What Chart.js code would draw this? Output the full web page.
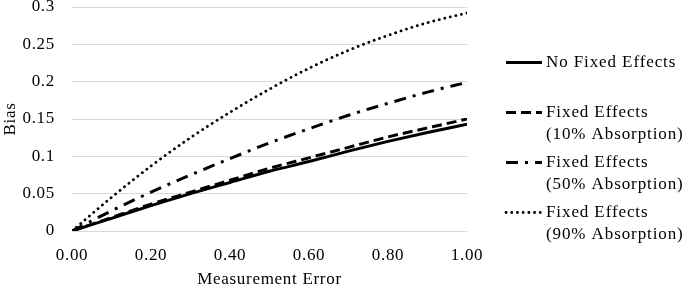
<!DOCTYPE html>
<html lang="en">
<head>
  <meta charset="UTF-8" />
  <title>Bias vs Measurement Error</title>
  <script src="https://cdn.jsdelivr.net/npm/chart.js"></script>
  <style>
    body {
      margin: 0;
      padding: 0;
      background: white;
    }
    #wrap {
      width: 685px;
      height: 287px;
    }
  </style>
</head>
<body>
  <div id="wrap"><canvas id="biasChart" width="685" height="287"></canvas></div>

  <script>
    // x values (measurement error)
    const errors = [0, 0.1, 0.2, 0.3, 0.4, 0.5, 0.6, 0.7, 0.8, 0.9, 1.0];

    // bias for each series
    const noFixed   = [0, 0.017, 0.034, 0.050, 0.065, 0.080, 0.093, 0.107, 0.120, 0.132, 0.143];
    const fixed10   = [0, 0.018, 0.036, 0.052, 0.068, 0.084, 0.098, 0.112, 0.126, 0.138, 0.150];
    const fixed50   = [0, 0.027, 0.052, 0.075, 0.097, 0.118, 0.137, 0.155, 0.171, 0.186, 0.199];
    const fixed90   = [0, 0.045, 0.087, 0.125, 0.159, 0.190, 0.218, 0.242, 0.262, 0.279, 0.292];

    const seriesNames = [
      ['No Fixed Effects'],
      ['Fixed Effects', '(10% Absorption)'],
      ['Fixed Effects', '(50% Absorption)'],
      ['Fixed Effects', '(90% Absorption)']
    ];

    const FONT = "'Liberation Serif', 'Times New Roman', serif";
    const SPACING = '0.7px';

    const toPoints = vals => vals.map((v, i) => ({ x: errors[i], y: v }));

    const lineStyles = [
      { borderDash: [], borderWidth: 3, borderCapStyle: 'butt' },
      { borderDash: [10, 5], borderWidth: 3, borderCapStyle: 'butt' },
      { borderDash: [12, 7, 3, 7], borderWidth: 3, borderCapStyle: 'butt' },
      { borderDash: [0.1, 5.6], borderWidth: 2.8, borderCapStyle: 'round' }
    ];

    const allSeries = [noFixed, fixed10, fixed50, fixed90];

    // the original text is set a little looser than the canvas default
    const looseText = {
      id: 'looseText',
      beforeUpdate(chart) { chart.ctx.letterSpacing = SPACING; },
      beforeDraw(chart) { chart.ctx.letterSpacing = SPACING; }
    };

    // legend drawn by hand so the two-line labels sit like the original
    const sideLegend = {
      id: 'sideLegend',
      afterDraw(chart) {
        const ctx = chart.ctx;
        const x0 = 506, x1 = 542, tx = 546;
        const top = 62.5, step = 50, lineH = 21.7;
        ctx.save();
        ctx.font = '17px ' + FONT;
        ctx.letterSpacing = '0.9px';
        ctx.fillStyle = '#000';
        ctx.textBaseline = 'middle';
        chart.data.datasets.forEach((ds, i) => {
          const y = top + i * step;
          ctx.beginPath();
          ctx.strokeStyle = '#000';
          ctx.lineWidth = ds.borderWidth;
          ctx.lineCap = ds.borderCapStyle;
          ctx.setLineDash(ds.borderDash);
          ctx.moveTo(x0, y);
          ctx.lineTo(x1, y);
          ctx.stroke();
          ctx.setLineDash([]);
          seriesNames[i].forEach((t, k) => ctx.fillText(t, tx, y + k * lineH));
        });
        ctx.restore();
      }
    };

    new Chart(document.getElementById('biasChart'), {
      type: 'line',
      data: {
        datasets: allSeries.map((vals, i) => ({
          label: seriesNames[i].join(' '),
          data: toPoints(vals),
          borderColor: '#000',
          backgroundColor: '#000',
          pointRadius: 0,
          tension: 0.4,
          cubicInterpolationMode: 'monotone',
          ...lineStyles[i]
        }))
      },
      options: {
        responsive: false,
        animation: false,
        layout: { padding: { top: 7, right: 218, left: 0, bottom: 0 } },
        plugins: {
          legend: { display: false },
          tooltip: { enabled: false }
        },
        scales: {
          x: {
            type: 'linear',
            min: 0,
            max: 1,
            grid: { display: false, drawTicks: false },
            border: { display: false },
            ticks: {
              stepSize: 0.2,
              padding: 14,
              color: '#000',
              font: { family: FONT, size: 17 },
              maxRotation: 0,
              callback: v => v.toFixed(2)
            },
            title: {
              display: true,
              text: 'Measurement Error',
              color: '#000',
              font: { family: FONT, size: 17 },
              padding: { top: 0, bottom: -3 }
            },
            afterFit(scale) {
              scale.height = 56;
              scale.paddingLeft = 0;
              scale.paddingRight = 0;
            }
          },
          y: {
            min: 0,
            max: 0.3,
            grid: { color: '#d9d9d9', lineWidth: 1, drawTicks: false },
            border: { display: false },
            ticks: {
              stepSize: 0.05,
              padding: 17,
              color: '#000',
              font: { family: FONT, size: 17 },
              callback: v => String(Math.round(v * 100) / 100)
            },
            title: {
              display: true,
              text: 'Bias',
              color: '#000',
              font: { family: FONT, size: 17 },
              padding: { top: 0, bottom: 0 }
            },
            afterFit(scale) {
              scale.width = 72;
              scale.paddingTop = 0;
              scale.paddingBottom = 0;
            }
          }
        }
      },
      plugins: [looseText, sideLegend]
    });
  </script>
</body>
</html>
